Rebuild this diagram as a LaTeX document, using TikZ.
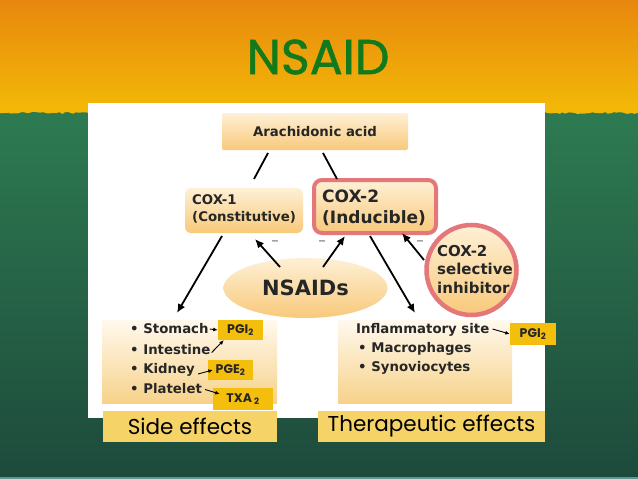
\documentclass[tikz,border=0pt]{standalone}
\usepackage{fontspec}
\setmainfont{DejaVu Sans}
\newfontfamily\comic{Poppins}
\newfontfamily\comicheavy[FakeBold=1.2]{Poppins}
\usetikzlibrary{arrows.meta,shapes.geometric,decorations.pathmorphing}

\definecolor{topor}{HTML}{E8870E}
\definecolor{topye}{HTML}{F2B707}
\definecolor{grtop}{HTML}{2E7C52}
\definecolor{grbot}{HTML}{1D4A3B}
\definecolor{titlegreen}{HTML}{137A1C}
\definecolor{boxlt}{HTML}{FEF0D6}
\definecolor{boxdk}{HTML}{F8C97A}
\definecolor{lowlt}{HTML}{FFF9EE}
\definecolor{lowdk}{HTML}{F7D28A}
\definecolor{coxred}{HTML}{E4777A}
\definecolor{pgfill}{HTML}{F4BE0C}
\definecolor{efffill}{HTML}{F6D367}
\definecolor{txt}{HTML}{262626}
\definecolor{stripc}{HTML}{5E9690}

\begin{document}
\begin{tikzpicture}[x=1pt,y=-1pt,
  bx/.style={top color=boxlt, bottom color=boxdk, inner sep=0},
  lowbox/.style={top color=lowlt, bottom color=lowdk, inner sep=0},
  tb/.style={font=\bfseries\fontsize{13.3}{17}\selectfont, text=txt, inner sep=0, anchor=west},
  sl/.style={tb, text height=9.7pt, text depth=0pt},
  pg/.style={fill=pgfill, inner sep=0, font=\comic\bfseries\fontsize{12.5}{12.5}\selectfont, text=txt},
  eff/.style={fill=efffill, inner sep=0, font=\comic\fontsize{21.5}{21.5}\selectfont, text=black},
  big/.style={line width=1.8pt, draw=black, -{Latex[length=9pt,width=8pt]}},
  plain/.style={line width=1.8pt, draw=black},
  sm/.style={line width=0.9pt, draw=black, -{Latex[length=4.5pt,width=4pt]}},
  minus/.style={font=\fontsize{15}{15}\selectfont, text=black!55, inner sep=0}
]
\useasboundingbox (0,0) rectangle (638,479);
% background
\fill[top color=grtop, bottom color=grbot] (0,100) rectangle (638,479);
\fill[stripc] (0,476.5) rectangle (638,479);
\fill[top color=topor, bottom color=topye] (0,0) rectangle (638,106);
\fill[topye] (0,105) -- (638,105) -- (638,113)
  decorate[decoration={random steps,segment length=3pt,amplitude=1.1pt}]{ -- (0,113)} -- cycle;
% panel
\fill[white] (88,103) rectangle (545,418);
% title
\node[text=titlegreen, font=\comicheavy\fontsize{49}{49}\selectfont, inner sep=0] (title) at (318,57) {NSAID};

% lower boxes
\node[lowbox, minimum width=175, minimum height=83] (sidebox) at (189.5,361.5) {};
\node[lowbox, minimum width=174, minimum height=83] (therbox) at (425,361.5) {};

% upper boxes
\node[bx, rounded corners=2pt, minimum width=186, minimum height=37,
      font=\bfseries\fontsize{13.3}{17}\selectfont, text=txt] (aa) at (315,131.5) {Arachidonic acid};
\node[bx, rounded corners=6pt, minimum width=118, minimum height=45] (cox1) at (244,210.5) {};
\node[tb, align=left] (cox1t) at (192,209) {COX-1\\(Constitutive)};
\node[bx, rounded corners=8pt, draw=coxred, line width=4pt, minimum width=122, minimum height=53] (cox2) at (375,206.5) {};
\node[tb, align=left, font=\bfseries\fontsize{17}{21}\selectfont] (cox2t) at (322,207.5) {COX-2\\(Inducible)};
\node[bx, ellipse, minimum width=164, minimum height=60,
      font=\bfseries\fontsize{21}{25}\selectfont, text=txt] (nsaid) at (305.5,288) {NSAIDs};
\node[circle, draw=coxred, line width=4.5pt, top color=boxlt, bottom color=boxdk,
      minimum size=90, inner sep=0] (sel) at (471.5,270) {};
\node[tb, align=left, font=\bfseries\fontsize{15}{18.5}\selectfont] (selt) at (437,269.5) {COX-2\\selective\\inhibitor};

% big arrows
\coordinate (a1s) at (268,153); \coordinate (a1e) at (254,179);
\coordinate (a2s) at (323,153); \coordinate (a2e) at (337,179);
\draw[plain] (a1s) -- (a1e);
\draw[plain] (a2s) -- (a2e);
\coordinate (c1s) at (222,236); \coordinate (c1e) at (177,313);
\draw[big] (c1s) -- (c1e);
\coordinate (n1s) at (280,267); \coordinate (n1e) at (255,239);
\draw[big] (n1s) -- (n1e);
\coordinate (n2s) at (323,267); \coordinate (n2e) at (345,236);
\draw[big] (n2s) -- (n2e);
\coordinate (c2s) at (370,236); \coordinate (c2e) at (415,313);
\draw[big] (c2s) -- (c2e);
\coordinate (s1s) at (424,260); \coordinate (s1e) at (402,233);
\draw[big] (s1s) -- (s1e);
\node[minus] (m1) at (275,243) {–};
\node[minus] (m2) at (322,243) {–};
\node[minus] (m3) at (420,243) {–};

% bullet texts
\node[sl] (stom) at (130,329) {• Stomach};
\node[sl] (inte) at (130,349.5) {• Intestine};
\node[sl] (kid) at (130,369) {• Kidney};
\node[sl] (plat) at (130,388.5) {• Platelet};
\node[sl] (infl) at (356,329) {Inflammatory site};
\node[sl] (macro) at (358,347.5) {• Macrophages};
\node[sl] (syno) at (358,366.5) {• Synoviocytes};

% PG boxes
\node[pg, minimum width=45, minimum height=20] (pgi2a) at (240.5,330) {PGI\textsubscript{2}};
\node[pg, minimum width=45, minimum height=20] (pge2) at (230.5,370) {PGE\textsubscript{2}};
\node[pg, minimum width=60, minimum height=22] (txa2) at (243,399) {TXA\,\textsubscript{2}};
\node[pg, minimum width=46, minimum height=22] (pgi2b) at (533,334) {PGI\textsubscript{2}};

% small arrows
\draw[sm] ([xshift=1pt]stom.east) -- (pgi2a.west);
\draw[sm] ([xshift=1pt,yshift=-3pt]inte.east) -- ([xshift=6pt]pgi2a.south west);
\draw[sm] ([xshift=3pt,yshift=-5pt]kid.east) -- ([xshift=5pt]pge2.west);
\draw[sm] ([xshift=3pt,yshift=-1pt]plat.east) -- ([xshift=7pt,yshift=5pt]txa2.west);
\draw[sm] ([xshift=3pt]infl.east) -- (pgi2b.west);

% effect labels
\node[eff, minimum width=174, minimum height=31] (side) at (190,426.5) {Side effects};
\node[eff, minimum width=227, minimum height=31] (ther) at (431.5,426.5) {Therapeutic effects};
\end{tikzpicture}
\end{document}
